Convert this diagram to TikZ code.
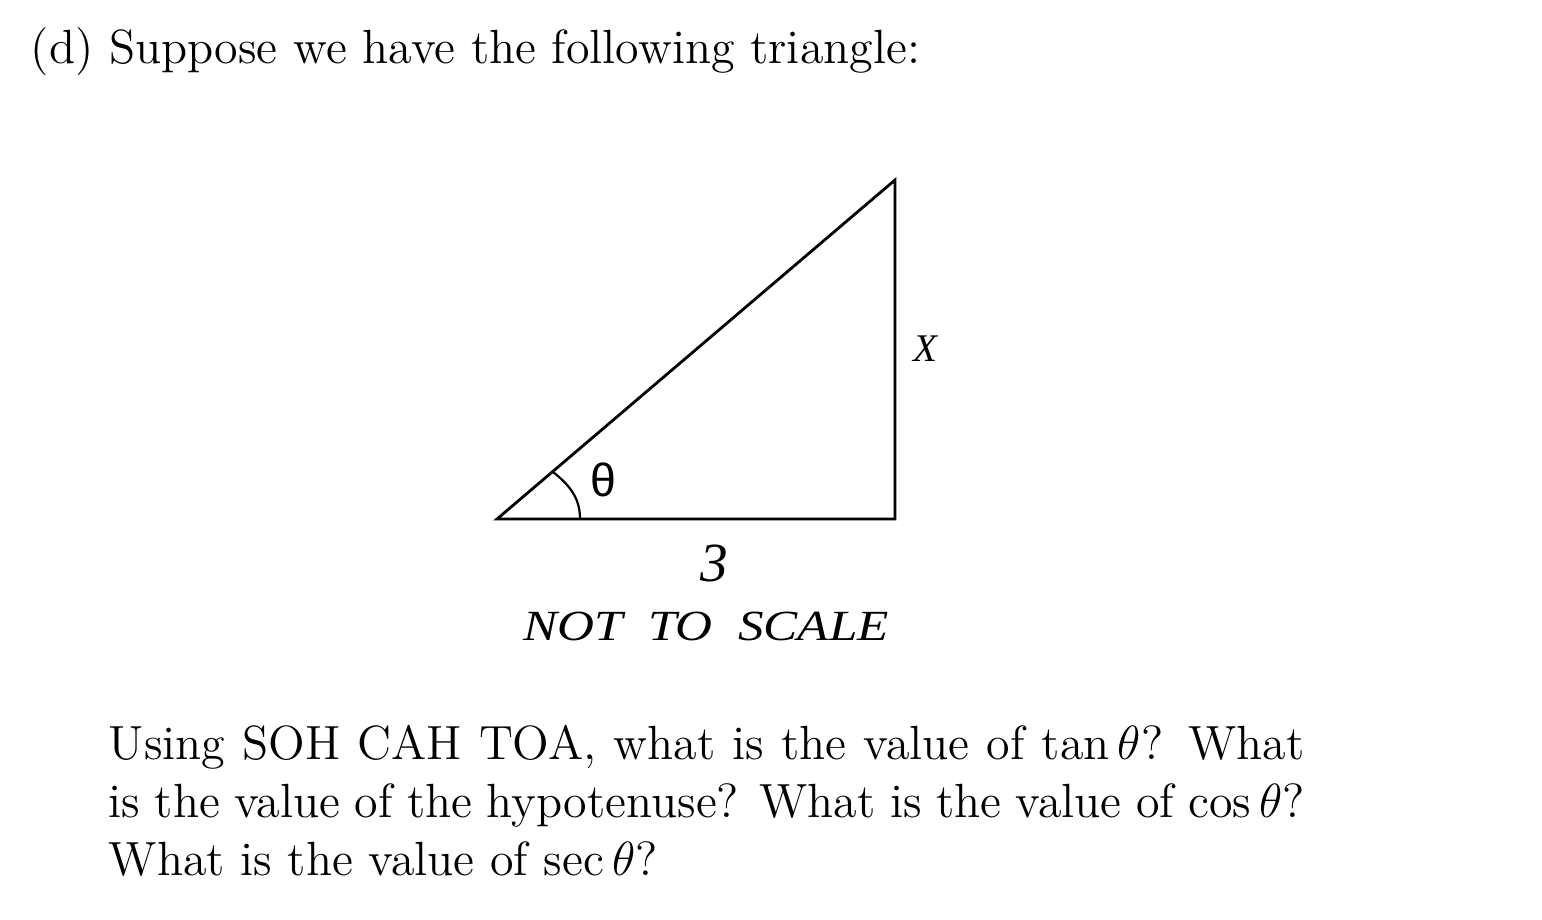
\documentclass[tikz,border=0pt]{standalone}
\usepackage{fontspec}
\usepackage{amsmath}
\newfontfamily\figserif{Liberation Serif}
\newfontfamily\figsans{Liberation Sans}
\usetikzlibrary{positioning}
\tikzstyle{corner} = [coordinate]
\tikzstyle{side} = [line width=0.7pt]
\tikzstyle{figtext} = [inner sep=0pt, font=\figserif\itshape]
\tikzstyle{anglemark} = [inner sep=0pt, font=\figsans\fontsize{11.6}{13}\selectfont]
\tikzstyle{bodytext} = [inner sep=0pt, font=\fontsize{12}{14.5}\selectfont]

\begin{document}
\begin{tikzpicture}[x=0.25pt, y=-0.25pt]
		\useasboundingbox (0,0) rectangle (1542,920);
		\node [bodytext, anchor=base west] (title) at (30,64) {(d) Suppose we have the following triangle:};

		\node [corner] (A) at (497,519) {};
		\node [corner] (B) at (895,519) {};
		\node [corner] (C) at (895,180) {};
		\node [corner] (arcin) at (553,472) {};
		\node [corner] (arcout) at (580,519) {};

		\draw [side, line join=miter] (A) -- (B) -- (C) -- cycle;
		\draw [line width=0.55pt] (arcin) .. controls (572,487) and (580,500) .. (arcout);

		\node [anglemark] (theta) at (603,480) {θ};
		\node [figtext, font=\figserif\itshape\fontsize{9.8}{11}\selectfont] (x) at (925,349) {X};
		\node [figtext, font=\figserif\itshape\fontsize{13.8}{15}\selectfont] (three) at (714,563) {3};
		\node [figtext, font=\figserif\itshape\fontsize{10.75}{12}\selectfont] (scale) at (706,626) {\scalebox{1.19}[1]{NOT\ \ TO\ \ SCALE}};

		\node [bodytext, text width=299pt, align=justify, anchor=north west] (question) at (108,724)
			{Using SOH CAH TOA, what is the value of $\tan\theta$? What is the value of the hypotenuse? What is the value of $\cos\theta$? What is the value of $\sec\theta$?};
	\end{tikzpicture}
\end{document}
